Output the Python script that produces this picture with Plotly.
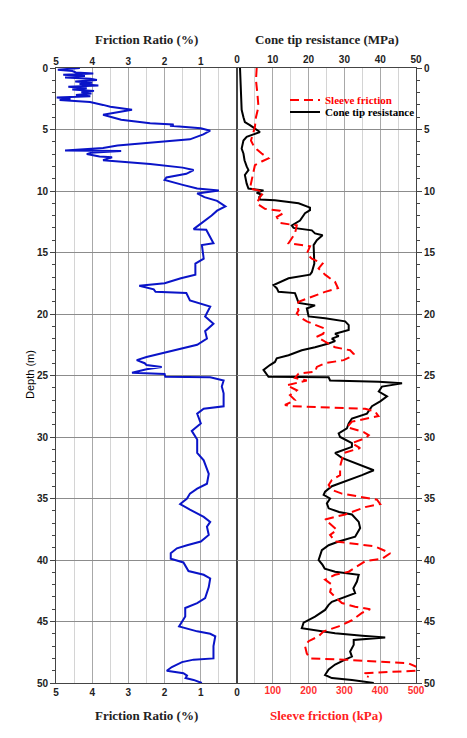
import plotly.graph_objects as go

# Friction ratio (%) vs depth (m)
fr_depth = [0.00, 0.14, 0.25, 0.36, 0.44, 0.55, 0.66, 0.77, 0.87, 0.98, 1.09, 1.20, 1.31, 1.42,
            1.53, 1.64, 1.75, 1.86, 1.97, 2.08, 2.19, 2.30, 2.40, 2.51, 2.60, 2.68, 2.76, 3.00,
            3.15, 3.40, 3.60, 3.80, 4.20, 4.50, 4.60, 4.70, 4.90, 5.10, 5.40, 5.80, 6.10, 6.30,
            6.50, 6.70, 6.75, 6.90, 7.00, 7.20, 7.25, 7.50, 7.80, 8.10, 8.30, 8.60, 8.90, 9.10,
            9.50, 9.80, 9.95, 10.20, 10.50, 10.80, 11.25, 11.60, 12.00, 12.80, 13.10, 13.15, 14.25,
            14.40, 15.50, 15.90, 16.80, 17.10, 17.50, 17.70, 18.00, 18.20, 18.30, 18.90, 19.30,
            19.40, 20.20, 20.80, 21.40, 22.00, 22.50, 22.90, 23.20, 23.50, 23.75, 24.00, 24.15,
            24.30, 24.50, 24.77, 24.88, 25.10, 25.15, 25.40, 25.90, 26.45, 27.50, 27.70, 28.10,
            28.90, 29.50, 30.20, 31.30, 31.90, 33.00, 33.80, 34.20, 34.60, 35.00, 35.45, 35.90,
            36.50, 36.90, 37.30, 37.96, 38.50, 38.80, 39.05, 39.45, 39.90, 40.20, 40.90, 41.20,
            41.50, 42.20, 43.10, 43.50, 43.90, 44.60, 45.00, 45.40, 45.80, 46.00, 46.20, 47.00,
            48.00, 48.10, 48.30, 48.70, 49.00, 49.20, 49.40, 49.60, 49.75, 50.00]
fr_value = [4.34, 4.95, 4.55, 4.45, 3.97, 4.80, 4.20, 4.75, 4.05, 3.87, 4.47, 4.00, 4.35, 3.83,
            4.66, 4.15, 4.55, 3.95, 4.30, 4.02, 4.45, 4.05, 4.98, 4.60, 4.90, 4.30, 4.06, 3.70,
            3.50, 2.90, 3.30, 3.70, 3.20, 2.40, 1.75, 1.85, 1.00, 0.74, 0.93, 1.30, 2.50, 3.30,
            3.70, 4.75, 3.20, 4.05, 4.15, 3.80, 3.45, 3.70, 2.40, 1.50, 1.20, 1.40, 1.95, 2.00,
            1.50, 1.10, 0.50, 1.10, 0.90, 0.55, 0.32, 0.55, 0.70, 1.06, 1.20, 0.85, 0.65,
            0.97, 0.92, 1.15, 1.15, 1.55, 2.00, 2.70, 2.30, 2.25, 1.40, 1.30, 0.88,
            0.74, 0.88, 0.65, 0.88, 0.83, 1.10, 1.65, 2.10, 2.50, 2.77, 2.55, 2.50,
            2.08, 2.50, 2.90, 2.00, 1.98, 0.74, 0.37, 0.42, 0.37, 0.37, 0.92, 1.10,
            1.00, 1.25, 1.10, 1.10, 0.92, 0.78, 0.83, 1.10, 1.30, 1.38, 1.57, 1.30,
            0.92, 0.74, 0.83, 0.78, 1.00, 1.38, 1.66, 1.83, 1.83, 1.48, 1.34, 0.92,
            0.74, 0.78, 0.88, 1.10, 1.43, 1.43, 1.52, 1.60, 1.10, 0.74, 0.60, 0.65,
            0.65, 1.20, 1.52, 1.80, 1.94, 1.48, 1.38, 1.42, 1.20, 0.97]

# Cone tip resistance (MPa) vs depth (m)
qc_depth = [0.00, 2.10, 3.40, 4.00, 4.40, 4.65, 4.90, 5.20, 5.40, 5.60, 5.90, 6.55, 6.95, 7.50,
            8.00, 8.30, 8.70, 9.40, 9.80, 9.95, 10.15, 10.30, 10.50, 10.70, 10.75, 11.00, 11.35,
            11.55, 11.80, 12.40, 12.80, 13.00, 13.20, 13.45, 13.60, 14.00, 14.40, 15.10, 15.90,
            16.60, 16.80, 17.10, 17.65, 17.90, 18.20, 18.30, 18.70, 19.10, 19.30, 19.55, 20.20,
            20.35, 20.60, 20.90, 21.30, 21.60, 21.80, 22.00, 22.20, 22.40, 22.70, 22.95, 23.35,
            23.60, 23.90, 24.15, 24.55, 24.85, 25.10, 25.15, 25.40, 25.50, 25.64, 25.90, 26.30,
            26.70, 27.10, 27.50, 28.10, 28.50, 28.90, 29.30, 29.70, 30.00, 30.20, 30.50, 30.80,
            31.30, 31.70, 32.10, 32.70, 33.10, 33.50, 34.00, 34.45, 34.70, 35.00, 35.40, 35.80,
            36.10, 36.30, 36.90, 37.40, 38.10, 38.50, 38.80, 39.20, 40.00, 40.40, 40.70, 40.95,
            41.20, 41.75, 42.30, 42.70, 43.00, 43.40, 43.65, 44.06, 44.60, 45.10, 45.55, 45.96,
            46.15, 46.30, 46.50, 46.90, 47.45, 47.85, 48.10, 48.50, 48.90, 49.35, 49.60, 49.75, 50.00]
qc_value = [0.84, 1.1, 1.3, 1.8, 2.2, 3.6, 5.0, 6.4, 4.6, 2.7, 1.8, 1.3, 1.8, 2.1,
            2.7, 3.2, 2.2, 2.7, 3.2, 7.4, 5.5, 6.9, 6.2, 6.4, 10.6, 17.2, 20.4,
            20.4, 19.0, 17.6, 15.3, 15.8, 20.9, 21.8, 23.9, 22.3, 21.4, 21.4, 21.6,
            20.9, 20.4, 14.4, 10.2, 11.1, 11.6, 16.2, 16.7, 17.2, 21.8, 19.5, 20.0,
            24.6, 30.2, 31.2, 31.2, 27.4, 28.4, 26.5, 27.4, 25.6, 21.8, 18.1, 14.4,
            11.1, 10.6, 9.2, 7.4, 8.3, 8.8, 25.6, 26.0, 39.6, 46.1, 40.5, 39.6,
            41.9, 40.0, 37.7, 36.3, 32.1, 31.2, 30.7, 28.4, 28.8, 30.2, 32.1, 32.1,
            27.4, 29.3, 33.0, 38.2, 34.9, 31.2, 26.5, 24.6, 24.2, 26.0, 25.1, 25.6,
            28.5, 32.1, 34.0, 34.4, 33.0, 28.4, 25.6, 23.7, 22.8, 23.9, 24.5, 27.4,
            34.0, 33.5, 32.5, 33.0, 30.2, 26.5, 25.6, 24.6, 21.8, 18.6, 18.1, 27.4,
            35.0, 41.4, 32.6, 32.6, 31.6, 32.1, 30.2, 27.4, 25.6, 24.6, 26.5, 32.1, 38.2]

# Sleeve friction (kPa) vs depth (m)
fs_depth = [0.00, 1.00, 2.10, 3.15, 4.00, 4.80, 5.20, 5.90, 6.30, 6.60, 6.95, 7.35, 7.60, 7.90,
            8.45, 9.10, 9.80, 9.95, 10.10, 10.50, 11.00, 11.45, 11.60, 11.80, 12.10, 12.60, 12.80,
            13.45, 14.00, 14.25, 14.50, 15.10, 15.50, 15.90, 16.30, 16.80, 17.40, 17.90, 18.20,
            18.60, 19.00, 19.30, 19.70, 19.95, 20.35, 20.60, 20.90, 21.20, 21.60, 21.85, 22.25,
            22.70, 22.95, 23.25, 23.50, 23.75, 24.00, 24.30, 24.70, 24.85, 25.20, 25.40, 25.80,
            26.20, 26.60, 27.00, 27.40, 27.50, 27.70, 27.94, 28.30, 28.50, 28.75, 29.20, 29.60,
            29.85, 30.10, 30.50, 30.90, 31.30, 31.90, 32.40, 33.10, 33.50, 33.90, 34.30, 34.60,
            34.85, 35.10, 35.45, 35.70, 36.10, 36.30, 36.70, 37.15, 37.55, 37.96, 38.50, 38.65,
            38.90, 39.45, 39.90, 40.10, 40.50, 40.95, 41.20, 41.60, 42.00, 42.60, 43.00, 43.50,
            43.80, 44.00, 44.30, 44.90, 45.40, 45.80, 46.20, 46.60, 47.00, 47.60, 48.00, 48.10,
            48.40, 48.70, 49.00, 49.20, 49.40, 49.50]
fs_value = [55, 53, 57, 60, 53, 50, 46, 39, 46, 55, 69, 88, 69, 50,
            46, 41, 36, 60, 74, 64, 55, 78, 120, 130, 111, 120, 167,
            162, 148, 144, 204, 195, 209, 239, 228, 246, 274, 282, 246,
            209, 172, 167, 172, 167, 181, 195, 218, 246, 241, 223, 246,
            274, 316, 326, 316, 298, 246, 223, 218, 172, 162, 195, 139,
            167, 148, 162, 134, 150, 358, 386, 395, 363, 321, 307, 354,
            368, 358, 321, 344, 298, 293, 288, 288, 265, 256, 265, 293,
            344, 391, 400, 358, 321, 302, 246, 265, 279, 260, 274, 321,
            386, 428, 405, 358, 335, 312, 274, 246, 265, 260, 274, 293,
            330, 372, 349, 321, 284, 242, 228, 200, 190, 195, 204, 300,
            479, 503, 503, 358, 355, 368]

fr_ticks = [5, 4, 3, 2, 1, 0]
qc_ticks = [0, 10, 20, 30, 40, 50]
fs_ticks = [100, 200, 300, 400, 500]  # the 0 is shared with the friction ratio axis

W, H = 467, 738
# plot area in pixels
x_left, x_mid, x_right = 56, 237, 416
y_top, y_bot = 68, 683

def px(x):
    return x / W

def py(y):
    return 1 - y / H

serif = "Liberation Serif"
sans = "Liberation Sans"

fig = go.Figure()

fig.add_trace(go.Scatter(x=fr_value, y=fr_depth, mode="lines", xaxis="x", yaxis="y",
                         line=dict(color="#0a14c8", width=2), showlegend=False))
fig.add_trace(go.Scatter(x=[], y=[], xaxis="x2", yaxis="y", showlegend=False))
fig.add_trace(go.Scatter(x=fs_value, y=fs_depth, mode="lines", xaxis="x4", yaxis="y2",
                         name="<span style='color:#ff0000'>Sleeve friction</span>",
                         legend="legend",
                         line=dict(color="#ff0000", width=2, dash="9px,5px")))
fig.add_trace(go.Scatter(x=qc_value, y=qc_depth, mode="lines", xaxis="x3", yaxis="y2",
                         name="Cone tip resistance", legend="legend2",
                         line=dict(color="black", width=2)))

tickfont = dict(family=sans, size=10, color="#222222", weight="bold")
frame = dict(showline=True, linecolor="#444444", linewidth=1, mirror=True, zeroline=False,
             automargin=False)

dom_l = [px(x_left), px(x_mid)]
dom_r = [px(x_mid), px(x_right)]
dom_y = [py(y_bot), py(y_top)]

legend_font = dict(family=serif, size=11, color="black", weight="bold")

fig.update_layout(
    width=W, height=H,
    margin=dict(l=0, r=0, t=0, b=0, autoexpand=False),
    plot_bgcolor="white", paper_bgcolor="white",
    xaxis=dict(domain=dom_l, range=[5, 0], anchor="y", side="bottom", tickvals=fr_ticks,
               showgrid=True, gridcolor="#a8a8a8", gridwidth=1,
               minor=dict(dtick=0.5, showgrid=True, gridcolor="#d4d4d4"),
               tickfont=tickfont, ticks="", **frame),
    xaxis2=dict(range=[5, 0], overlaying="x", anchor="y", side="top", tickvals=fr_ticks[:-1],
                showgrid=False, tickfont=tickfont, ticks="", showline=False, zeroline=False,
                automargin=False),
    xaxis3=dict(domain=dom_r, range=[0, 50], anchor="y2", side="top", tickvals=qc_ticks,
                showgrid=True, gridcolor="#a8a8a8", gridwidth=1,
                minor=dict(dtick=5, showgrid=True, gridcolor="#d4d4d4"),
                tickfont=tickfont, ticks="", **frame),
    xaxis4=dict(range=[0, 500], overlaying="x3", anchor="y2", side="bottom", tickvals=fs_ticks,
                showgrid=False, tickfont=dict(family=sans, size=10, color="#ff3030", weight="bold"),
                ticks="", showline=False, zeroline=False, automargin=False),
    yaxis=dict(domain=dom_y, range=[50, 0], anchor="x", side="left", dtick=5,
               showgrid=True, gridcolor="#8c8c8c", gridwidth=1,
               ticks="outside", ticklen=5, tickcolor="#444444",
               minor=dict(dtick=1, ticks="outside", ticklen=3, tickcolor="#444444"),
               tickfont=tickfont, **frame),
    yaxis2=dict(domain=dom_y, range=[50, 0], anchor="x3", side="right", dtick=5,
                matches="y", showgrid=True, gridcolor="#8c8c8c", gridwidth=1,
                ticks="outside", ticklen=5, tickcolor="#444444",
                minor=dict(dtick=1, ticks="outside", ticklen=3, tickcolor="#444444"),
                tickfont=tickfont, **frame),
    legend=dict(x=px(285), y=py(100), xanchor="left", yanchor="middle",
                bgcolor="rgba(0,0,0,0)", borderwidth=0, font=legend_font),
    legend2=dict(x=px(285), y=py(112), xanchor="left", yanchor="middle",
                 bgcolor="rgba(0,0,0,0)", borderwidth=0, font=legend_font),
)

title_font = dict(family=serif, size=13, color="#222222", weight="bold")
cx_l = px((x_left + x_mid) / 2)
cx_r = px((x_mid + x_right) / 2)
labels = [
    ("Friction Ratio (%)", cx_l, py(39), title_font),
    ("Cone tip resistance (MPa)", cx_r, py(39), title_font),
    ("Friction Ratio (%)", cx_l, py(715), title_font),
    ("Sleeve friction (kPa)", cx_r, py(715), dict(title_font, color="#ff2020")),
]
for text, x, y, font in labels:
    fig.add_annotation(text=text, x=x, y=y, xref="paper", yref="paper", xanchor="center",
                       yanchor="middle", showarrow=False, font=font)
fig.add_annotation(text="Depth (m)", x=px(30), y=py(375), xref="paper", yref="paper",
                   xanchor="center", yanchor="middle", showarrow=False, textangle=-90,
                   font=dict(family=sans, size=11, color="black"))

# the page body has a default margin; drop it so the figure sits at the window corner
fig.write_html("out.html", config={"displayModeBar": False},
               post_script="document.body.style.margin='0px';")
